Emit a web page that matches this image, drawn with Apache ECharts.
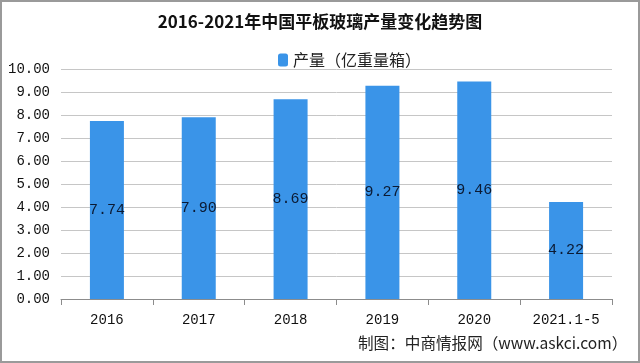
<!DOCTYPE html>
<html>
<head>
<meta charset="utf-8">
<script src="https://cdn.jsdelivr.net/npm/echarts@6/dist/echarts.min.js"></script>
<style>
html,body{margin:0;padding:0;background:#fff;}
#wrap{position:relative;width:640px;height:363px;}
#chart{position:absolute;left:0;top:0;width:640px;height:363px;}
#frame{position:absolute;left:0;top:0;width:640px;height:363px;box-sizing:border-box;border:2px solid #9a9a9a;pointer-events:none;}
</style>
</head>
<body>
<div id="wrap"><div id="chart"></div><div id="frame"></div></div>
<script>
const categories = ['2016', '2017', '2018', '2019', '2020', '2021.1-5'];
const production = [7.74, 7.90, 8.69, 9.27, 9.46, 4.22];
const yTicks = { min: 0, max: 10, interval: 1 };
const titleText = '2016-2021年中国平板玻璃产量变化趋势图';
const seriesName = '产量（亿重量箱）';
const sourceText = '制图：中商情报网（www.askci.com）';

const monoFont = '"Liberation Mono", "DejaVu Sans Mono", monospace';
const cjkFont = '"Noto Sans CJK SC", sans-serif';

const chart = echarts.init(document.getElementById('chart'));
chart.setOption({
  animation: false,
  backgroundColor: '#fff',
  title: {
    text: titleText,
    left: 'center',
    top: 8,
    textStyle: { fontFamily: cjkFont, fontSize: 17, fontWeight: 'bold', color: '#111' }
  },
  legend: {
    data: [seriesName],
    top: 47,
    left: 273,
    itemWidth: 10,
    itemHeight: 13,
    itemGap: 4,
    textStyle: { fontFamily: cjkFont, fontSize: 16, color: '#222' }
  },
  grid: { left: 61, right: 28, top: 69, bottom: 64 },
  xAxis: {
    type: 'category',
    data: categories,
    axisLine: { lineStyle: { color: '#8c8c8c', width: 1 } },
    axisTick: { show: true, length: 6, lineStyle: { color: '#8c8c8c' }, alignWithLabel: false },
    axisLabel: { fontFamily: monoFont, fontSize: 14, color: '#111', margin: 14 }
  },
  yAxis: {
    type: 'value',
    min: yTicks.min,
    max: yTicks.max,
    interval: yTicks.interval,
    axisLine: { show: false },
    axisTick: { show: false },
    splitLine: { lineStyle: { color: '#c6c6c6', width: 1 } },
    axisLabel: {
      fontFamily: monoFont, fontSize: 14, color: '#111', margin: 11,
      formatter: v => v.toFixed(2)
    }
  },
  graphic: [{
    type: 'text',
    left: 358,
    top: 335,
    style: { text: sourceText, fontFamily: cjkFont, fontSize: 15.6, fill: '#222' }
  }],
  series: [{
    name: seriesName,
    type: 'bar',
    data: production,
    barWidth: 34,
    itemStyle: { color: '#3a94e8' },
    label: {
      show: true,
      position: 'inside',
      fontFamily: monoFont,
      fontSize: 15,
      color: '#0b1a33',
      formatter: p => p.value.toFixed(2)
    }
  }]
});
</script>
</body>
</html>
